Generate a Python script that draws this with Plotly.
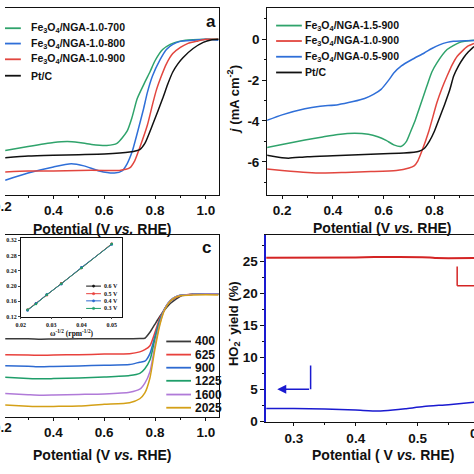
import plotly.graph_objects as go

W = 474.0
def px(x): return x / W
def py(y): return 1 - y / W

FONT = "Liberation Sans"
SERIF = "Liberation Serif"

# ---------------- Panel a data ----------------
a_labels = ["Fe<sub>3</sub>O<sub>4</sub>/NGA-1.0-700", "Fe<sub>3</sub>O<sub>4</sub>/NGA-1.0-800",
            "Fe<sub>3</sub>O<sub>4</sub>/NGA-1.0-900", "Pt/C"]
a_colors = ["#2fa36b", "#2f6fd8", "#e2463f", "#111111"]
a700_x = [0.21, 0.3, 0.4, 0.455, 0.5, 0.55, 0.61, 0.65, 0.69, 0.71, 0.73, 0.76, 0.78, 0.8, 0.83, 0.86, 0.88, 0.92, 1.0, 1.05]
a700_y = [-5.45, -5.25, -5.05, -5.0, -5.05, -5.15, -5.2, -5.1, -4.5, -3.8, -2.9, -2.1, -1.6, -1.05, -0.5, -0.25, -0.15, -0.05, 0.0, 0.0]
a800_x = [0.21, 0.3, 0.4, 0.47, 0.52, 0.58, 0.64, 0.67, 0.69, 0.71, 0.73, 0.755, 0.77, 0.79, 0.82, 0.845, 0.87, 0.9, 0.95, 1.0, 1.05]
a800_y = [-6.9, -6.55, -6.25, -6.1, -6.2, -6.45, -6.55, -6.45, -6.1, -5.5, -4.6, -3.4, -2.6, -1.8, -1.0, -0.5, -0.25, -0.1, -0.05, 0.0, -0.05]
a900_x = [0.21, 0.3, 0.4, 0.5, 0.6, 0.66, 0.7, 0.72, 0.74, 0.77, 0.79, 0.805, 0.825, 0.845, 0.87, 0.9, 0.93, 0.97, 1.0, 1.05]
a900_y = [-6.5, -6.45, -6.45, -6.42, -6.42, -6.42, -6.3, -5.95, -5.3, -4.2, -3.2, -2.5, -1.8, -1.2, -0.7, -0.4, -0.2, -0.08, 0.0, 0.0]
aPt_x = [0.21, 0.3, 0.4, 0.5, 0.6, 0.7, 0.74, 0.76, 0.79, 0.83, 0.85, 0.87, 0.89, 0.91, 0.95, 0.99, 1.02, 1.05]
aPt_y = [-5.8, -5.72, -5.68, -5.65, -5.62, -5.52, -5.4, -5.1, -4.2, -2.9, -2.2, -1.6, -1.2, -0.9, -0.45, -0.15, -0.03, 0.0]

# ---------------- Panel b data ----------------
b_labels = ["Fe<sub>3</sub>O<sub>4</sub>/NGA-1.5-900", "Fe<sub>3</sub>O<sub>4</sub>/NGA-1.0-900",
            "Fe<sub>3</sub>O<sub>4</sub>/NGA-0.5-900", "Pt/C"]
b_colors = ["#2fa36b", "#e2463f", "#2f6fd8", "#111111"]
b15_x = [0.14, 0.2, 0.29, 0.36, 0.42, 0.486, 0.54, 0.577, 0.61, 0.64, 0.668, 0.69, 0.707, 0.725, 0.74, 0.77, 0.79, 0.81, 0.85, 0.9, 0.956]
b15_y = [-5.3, -5.15, -4.93, -4.78, -4.66, -4.6, -4.65, -4.77, -4.95, -5.17, -5.25, -5.0, -4.5, -3.95, -3.4, -2.3, -1.6, -1.15, -0.5, -0.15, -0.05]
b10_x = [0.14, 0.2, 0.3, 0.36, 0.45, 0.55, 0.65, 0.7, 0.72, 0.735, 0.75, 0.778, 0.81, 0.83, 0.85, 0.87, 0.89, 0.93, 0.956]
b10_y = [-6.35, -6.42, -6.52, -6.55, -6.52, -6.48, -6.42, -6.3, -6.2, -5.95, -5.5, -4.5, -3.1, -2.4, -1.8, -1.25, -0.83, -0.35, -0.2]
b05_x = [0.14, 0.2, 0.29, 0.35, 0.42, 0.48, 0.525, 0.56, 0.59, 0.62, 0.64, 0.67, 0.71, 0.76, 0.79, 0.82, 0.85, 0.875, 0.956]
b05_y = [-3.97, -3.7, -3.4, -3.28, -3.2, -3.05, -2.9, -2.7, -2.45, -2.0, -1.65, -1.3, -1.0, -0.67, -0.45, -0.27, -0.15, -0.1, -0.06]
bPt_x = [0.14, 0.2, 0.226, 0.3, 0.4, 0.5, 0.6, 0.68, 0.74, 0.76, 0.78, 0.8, 0.82, 0.84, 0.86, 0.876, 0.895, 0.915, 0.935, 0.956]
bPt_y = [-5.68, -5.8, -5.82, -5.75, -5.7, -5.65, -5.6, -5.57, -5.48, -5.35, -5.0, -4.5, -3.85, -3.2, -2.5, -1.8, -1.3, -0.9, -0.6, -0.35]

# ---------------- Panel c data ----------------
c_labels = ["400", "625", "900", "1225", "1600", "2025"]
c_colors = ["#3a3a3a", "#e8413c", "#2d6ad1", "#1f9e6a", "#b07ad8", "#d4a017"]
c_x = [0.21, 0.3, 0.35, 0.4, 0.5, 0.6, 0.7, 0.74, 0.76, 0.78, 0.8, 0.82, 0.84, 0.86, 0.88, 0.9, 0.95, 1.0, 1.05]
c400 = [-2.40, -2.40, -2.42, -2.41, -2.40, -2.40, -2.40, -2.39, -2.37, -2.05, -1.61, -1.18, -0.82, -0.51, -0.30, -0.12, -0.02, 0.0, 0.0]
c625 = [-3.25, -3.27, -3.28, -3.27, -3.25, -3.22, -3.20, -3.10, -2.98, -2.77, -2.05, -1.25, -0.74, -0.39, -0.21, -0.09, -0.02, 0.0, 0.0]
c900 = [-3.84, -3.87, -3.90, -3.88, -3.85, -3.82, -3.78, -3.65, -3.60, -3.19, -2.25, -1.35, -0.74, -0.39, -0.18, -0.07, -0.02, 0.0, 0.0]
c1225 = [-4.46, -4.52, -4.54, -4.53, -4.50, -4.45, -4.37, -4.25, -4.00, -3.54, -2.40, -1.39, -0.74, -0.35, -0.16, -0.07, -0.02, 0.0, 0.0]
c1600 = [-5.33, -5.39, -5.42, -5.41, -5.38, -5.35, -5.26, -5.10, -4.77, -4.16, -2.75, -1.53, -0.74, -0.35, -0.16, -0.07, -0.02, 0.0, 0.0]
c2025 = [-5.95, -6.01, -6.03, -6.02, -6.00, -5.91, -5.82, -5.61, -5.30, -4.50, -2.93, -1.61, -0.79, -0.39, -0.18, -0.09, -0.05, -0.04, -0.05]
c_series = [c400, c625, c900, c1225, c1600, c2025]

# inset (Koutecky-Levich)
k_x = [0.02222, 0.025, 0.02857, 0.03333, 0.04, 0.05]
k_labels = ["0.6 V", "0.5 V", "0.4 V", "0.3 V"]
k_colors = ["#111111", "#e8413c", "#2d6ad1", "#1f9e6a"]
k06 = [0.137, 0.154, 0.177, 0.206, 0.248, 0.310]
k05 = [0.138, 0.155, 0.176, 0.207, 0.247, 0.311]
k04 = [0.136, 0.155, 0.178, 0.205, 0.249, 0.309]
k03 = [0.138, 0.153, 0.177, 0.206, 0.247, 0.310]
k_series = [k06, k05, k04, k03]

# ---------------- Panel d data ----------------
d_blue_x = [0.255, 0.3, 0.35, 0.4, 0.436, 0.46, 0.48, 0.51, 0.55, 0.595]
d_blue_y = [2.05, 2.05, 1.95, 1.8, 1.65, 1.8, 2.0, 2.35, 2.65, 3.05]
d_red_x = [0.255, 0.4, 0.43, 0.52, 0.53, 0.595]
d_red_y = [25.55, 25.6, 25.65, 25.6, 25.5, 25.5]

fig = go.Figure()

def add_line(x, y, color, xa, ya, width=1.5):
    fig.add_trace(go.Scatter(x=x, y=y, mode="lines", xaxis=xa, yaxis=ya,
                             line=dict(color=color, width=width, shape="spline", smoothing=0.6),
                             showlegend=False, hoverinfo="skip"))

for xs, ys, col in [(a700_x, a700_y, a_colors[0]), (a800_x, a800_y, a_colors[1]),
                    (a900_x, a900_y, a_colors[2]), (aPt_x, aPt_y, a_colors[3])]:
    add_line(xs, ys, col, "x", "y")
for xs, ys, col in [(b15_x, b15_y, b_colors[0]), (b10_x, b10_y, b_colors[1]),
                    (b05_x, b05_y, b_colors[2]), (bPt_x, bPt_y, b_colors[3])]:
    add_line(xs, ys, col, "x2", "y2")
for ys, col in zip(c_series, c_colors):
    add_line(c_x, ys, col, "x3", "y3")
for ys, col in zip(k_series, k_colors):
    fig.add_trace(go.Scatter(x=k_x, y=ys, mode="lines+markers", xaxis="x5", yaxis="y5",
                             line=dict(color=col, width=0.8), marker=dict(size=2.5, color=col),
                             showlegend=False, hoverinfo="skip"))
add_line(d_blue_x, d_blue_y, "#1a1ad0", "x4", "y4", 1.5)
add_line(d_red_x, d_red_y, "#d42424", "x4", "y4", 2)

tickfont = dict(family=FONT, size=13.5, color="#111", weight="bold")
common_x = dict(showgrid=False, zeroline=False, showline=True, linecolor="#111", linewidth=1.2,
                ticks="outside", ticklen=3, tickwidth=1.2, tickcolor="#111", tickfont=tickfont)
minor_x = dict(ticklen=2, ticks="outside", tickcolor="#111")

fig.update_layout(
    width=474, height=474, margin=dict(l=0, r=0, t=0, b=0),
    paper_bgcolor="white", plot_bgcolor="white", showlegend=False,
    xaxis=dict(common_x, domain=[0, px(216)], range=[0.209, 1.051], anchor="y", mirror=True,
               tickvals=[0.4, 0.6, 0.8, 1.0], ticktext=["0.4", "0.6", "0.8", "1.0"],
               minor=dict(minor_x, tickvals=[0.3, 0.5, 0.7, 0.9])),
    yaxis=dict(domain=[py(197), py(7)], range=[-7.61, 1.54], anchor="x", side="right",
               showline=True, linecolor="#111", linewidth=1.2, showticklabels=False, ticks="",
               showgrid=False, zeroline=False),
    xaxis2=dict(common_x, domain=[px(265), 1], range=[0.1415, 0.956], anchor="y2", mirror=True,
                tickvals=[0.2, 0.4, 0.6, 0.8], ticktext=["0.2", "0.4", "0.6", "0.8"],
                minor=dict(minor_x, tickvals=[0.3, 0.5, 0.7, 0.9])),
    yaxis2=dict(common_x, domain=[py(197), py(7)], range=[-7.61, 1.54], anchor="x2", ticklen=4,
                tickvals=[-6, -4, -2, 0], ticktext=["-6", "-4", "-2", "0"],
                minor=dict(minor_x, tickvals=[-7, -5, -3, -1, 1])),
    xaxis3=dict(common_x, domain=[0, px(216)], range=[0.209, 1.051], anchor="y3", mirror=True,
                tickvals=[0.4, 0.6, 0.8, 1.0], ticktext=["0.4", "0.6", "0.8", "1.0"],
                minor=dict(minor_x, tickvals=[0.3, 0.5, 0.7, 0.9])),
    yaxis3=dict(domain=[py(423), py(238)], range=[-6.58, 3.16], anchor="x3", side="right",
                showline=True, linecolor="#111", linewidth=1.2, showticklabels=False, ticks="",
                showgrid=False, zeroline=False),
    xaxis4=dict(common_x, domain=[px(264), 1], range=[0.2552, 0.5912], anchor="y4", mirror=True,
                tickvals=[0.3, 0.4, 0.5], ticktext=["0.3", "0.4", "0.5"],
                minor=dict(minor_x, tickvals=[0.35, 0.45, 0.55])),
    yaxis4=dict(common_x, domain=[py(428.5), py(238)], range=[-0.1, 29.1], anchor="x4", ticklen=4,
                linecolor="#1a1ad0", linewidth=1.5,
                tickvals=[0, 5, 10, 15, 20, 25],
                minor=dict(minor_x, tickvals=[2.5, 7.5, 12.5, 17.5, 22.5, 27.5])),
    xaxis5=dict(domain=[px(16), px(118)], range=[0.02, 0.0533], anchor="y5", mirror=True,
                showline=True, linecolor="#111", linewidth=0.8, showgrid=False, zeroline=False,
                ticks="outside", ticklen=2, tickwidth=0.8,
                tickvals=[0.02, 0.03, 0.04, 0.05], ticktext=["0.02", "0.03", "0.04", "0.05"],
                tickfont=dict(family=SERIF, size=6, color="#111", weight="bold")),
    yaxis5=dict(domain=[py(321), py(241)], range=[0.12, 0.326], anchor="x5", mirror=True,
                showline=True, linecolor="#111", linewidth=0.8, showgrid=False, zeroline=False,
                ticks="outside", ticklen=2, tickwidth=0.8,
                tickvals=[0.12, 0.16, 0.20, 0.24, 0.28, 0.32],
                ticktext=["0.12", "0.16", "0.20", "0.24", "0.28", "0.32"],
                tickfont=dict(family=SERIF, size=6, color="#111", weight="bold")),
)

ann = []
shapes = []
def text(x, y, s, size, xanchor="center", angle=0, family=FONT, bold=True):
    ann.append(dict(x=px(x), y=py(y), xref="paper", yref="paper", text=s, showarrow=False,
                    xanchor=xanchor, yanchor="middle", textangle=angle,
                    font=dict(family=family, size=size, color="#111", weight="bold" if bold else "normal")))

# axis titles
title = "Potential (V <i>vs.</i> RHE)"
text(99, 232, title, 14)
text(382, 231, title, 14)
text(99, 462, title, 14)
text(382, 462, "Potential ( V <i>vs.</i> RHE)", 14)
text(231, 100, "<i>j</i> (mA cm<sup>-2</sup>)", 13, angle=-90)
text(231, 328, "HO<sub>2</sub><sup>-</sup> yield (%)", 13, angle=-90)
# partially cropped tick labels
text(-2.3, 209, "0.2", 13.5)
text(-2.3, 434, "0.2", 13.5)
text(480, 440, "0.6", 13.5)
# panel letters
text(208, 21, "a", 17)
text(204, 251, "c", 17)
# inset x title
text(68, 338, "ω<sup>-1/2</sup> (rpm<sup>-1/2</sup>)", 7.5, family=SERIF)

# legends
def legend(rows, labels, colors, x0, x1, xt, size, family=FONT, marker=False, lw=1.8):
    for yy, lab, col in zip(rows, labels, colors):
        shapes.append(dict(type="line", xref="paper", yref="paper", x0=px(x0), x1=px(x1),
                           y0=py(yy), y1=py(yy), line=dict(color=col, width=lw)))
        if marker:
            xm = (x0 + x1) / 2
            shapes.append(dict(type="circle", xref="paper", yref="paper", x0=px(xm - 1.2), x1=px(xm + 1.2),
                               y0=py(yy + 1.2), y1=py(yy - 1.2), fillcolor=col, line=dict(color=col, width=0.5)))
        text(xt, yy, lab, size, xanchor="left", family=family)

legend([27.7, 43.3, 59.3, 76], a_labels, a_colors, 0, 16, 24, 10.5)
legend([25, 40.7, 56.7, 72.7], b_labels, b_colors, 274, 300, 301, 10.5)
legend([346.3, 359.7, 373, 386.3, 400.3, 413.7], c_labels, c_colors, 163, 188, 190, 12)
legend([290, 297.7, 305, 312.7], k_labels, k_colors, 82, 97, 98, 6, family=SERIF, marker=True, lw=1)

# panel d arrows
blue_arrow = dict(x_v=0.327, y_top=8.74, y_elbow=5.06, x_tip=0.273)
red_arrow = dict(x_v=0.564, y_top=24.2, y_elbow=21.2, x_tip=0.62)
shapes.append(dict(type="line", xref="x4", yref="y4", x0=blue_arrow["x_v"], x1=blue_arrow["x_v"],
                   y0=blue_arrow["y_elbow"], y1=blue_arrow["y_top"], line=dict(color="#1a1ad0", width=1.5)))
ann.append(dict(x=blue_arrow["x_tip"], y=blue_arrow["y_elbow"], xref="x4", yref="y4",
                ax=blue_arrow["x_v"], ay=blue_arrow["y_elbow"], axref="x4", ayref="y4", text="",
                showarrow=True, arrowhead=2, arrowsize=1.2, arrowwidth=1.5, arrowcolor="#1a1ad0"))
shapes.append(dict(type="line", xref="x4", yref="y4", x0=red_arrow["x_v"], x1=red_arrow["x_v"],
                   y0=red_arrow["y_elbow"], y1=red_arrow["y_top"], line=dict(color="#d42424", width=1.5)))
shapes.append(dict(type="line", xref="x4", yref="y4", x0=red_arrow["x_v"], x1=red_arrow["x_tip"],
                   y0=red_arrow["y_elbow"], y1=red_arrow["y_elbow"], line=dict(color="#d42424", width=1.5)))

fig.update_layout(annotations=ann, shapes=shapes)
fig.write_html("out.html")
